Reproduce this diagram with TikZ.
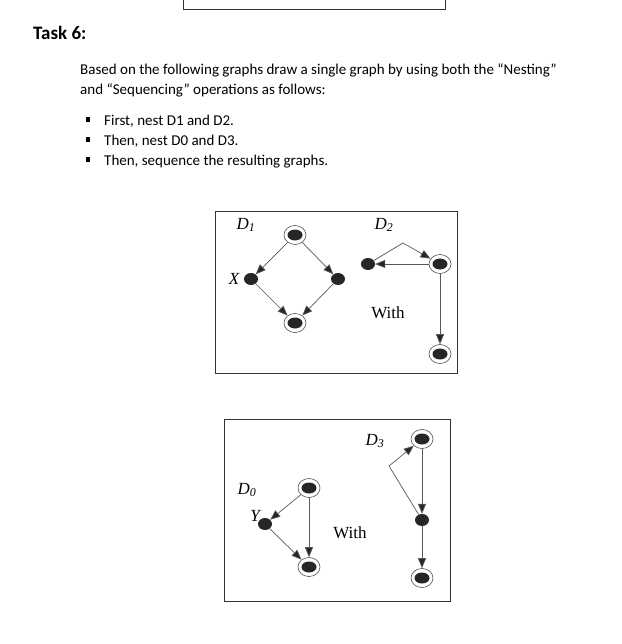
\documentclass[tikz,border=0pt]{standalone}
\usepackage{fontspec}
\setmainfont{Carlito}
\newfontfamily\tnr{Liberation Serif}
\usetikzlibrary{arrows.meta,shapes.geometric}
\begin{document}
\begin{tikzpicture}[x=1pt,y=-1pt,
  txt/.style={anchor=base west,inner sep=0,font=\fontsize{15}{17}\selectfont},
  lab/.style={inner sep=0,font=\tnr\itshape\fontsize{17}{19}\selectfont},
  withl/.style={inner sep=0,font=\tnr\fontsize{17}{19}\selectfont},
  dnode/.style={ellipse,draw=black!70,line width=0.6pt,minimum width=22pt,minimum height=19pt,inner sep=0,
     path picture={\fill[black!85] (path picture bounding box.center) ellipse (7.5pt and 5.5pt);}},
  fnode/.style={ellipse,fill=black!85,minimum width=14pt,minimum height=12pt,inner sep=0},
  edge/.style={draw=black!65,line width=0.7pt,-{Triangle[length=10pt,width=8pt,fill=black!85]}},
  box/.style={draw=black!80,line width=0.8pt}]
\useasboundingbox (0,0) rectangle (621,644);
\draw[box] (183,-2) |- (445,9) -- (445,-2);
\node[txt,font=\bfseries\fontsize{19}{21}\selectfont] (t) at (33,40) {Task 6:};
\node[txt] (p1) at (80,75) {Based on the following graphs draw a single graph by using both the “Nesting”};
\node[txt] (p2) at (80,95) {and “Sequencing” operations as follows:};
\foreach \y/\s [count=\i] in {126/{First, nest D1 and D2.},146/{Then, nest D0 and D3.},166/{Then, sequence the resulting graphs.}}{
  \fill (86,\y-9) rectangle (90,\y-4);
  \node[txt] (b\i) at (104,\y) {\s};}
% box 1
\draw[box] (215,211) rectangle (457,373);
\node[lab] (ld1) at (246,225) {D\textsubscript{1}};
\node[dnode] (a) at (295,235) {};
\node[fnode] (x) at (251,279) {};
\node[lab] (lx) at (234,279) {X};
\node[fnode] (r) at (338,279) {};
\node[dnode] (b) at (295,323) {};
\path[edge] (a) -- (x); \path[edge] (a) -- (r);
\path[edge] (x) -- (b); \path[edge] (r) -- (b);
\node[lab] (ld2) at (384,225) {D\textsubscript{2}};
\node[fnode] (c) at (368,264) {};
\node[dnode] (d) at (440,264) {};
\node[dnode] (e) at (440,354) {};
\coordinate (k1) at (403,243);
\path[edge] (d) -- (c);
\path[edge] (c) -- (k1) -- (d);
\path[edge] (d) -- (e);
\node[withl] (w1) at (388,313) {With};
% box 2
\draw[box] (224,419) rectangle (450,601);
\node[lab] (ld0) at (247,490) {D\textsubscript{0}};
\node[dnode] (f) at (309,488) {};
\node[fnode] (y) at (265,524) {};
\node[lab] (ly) at (255,516) {Y};
\node[dnode] (g) at (309,567) {};
\path[edge] (f) -- (y); \path[edge] (y) -- (g); \path[edge] (f) -- (g);
\node[lab] (ld3) at (375,441) {D\textsubscript{3}};
\node[dnode] (h) at (422,439) {};
\node[fnode] (m) at (422,520) {};
\node[dnode] (n) at (422,578) {};
\coordinate (k2) at (389,466);
\path[edge] (h) -- (m); \path[edge] (m) -- (n);
\path[edge] (m) -- (k2) -- (h);
\node[withl] (w2) at (350,533) {With};
\end{tikzpicture}
\end{document}
